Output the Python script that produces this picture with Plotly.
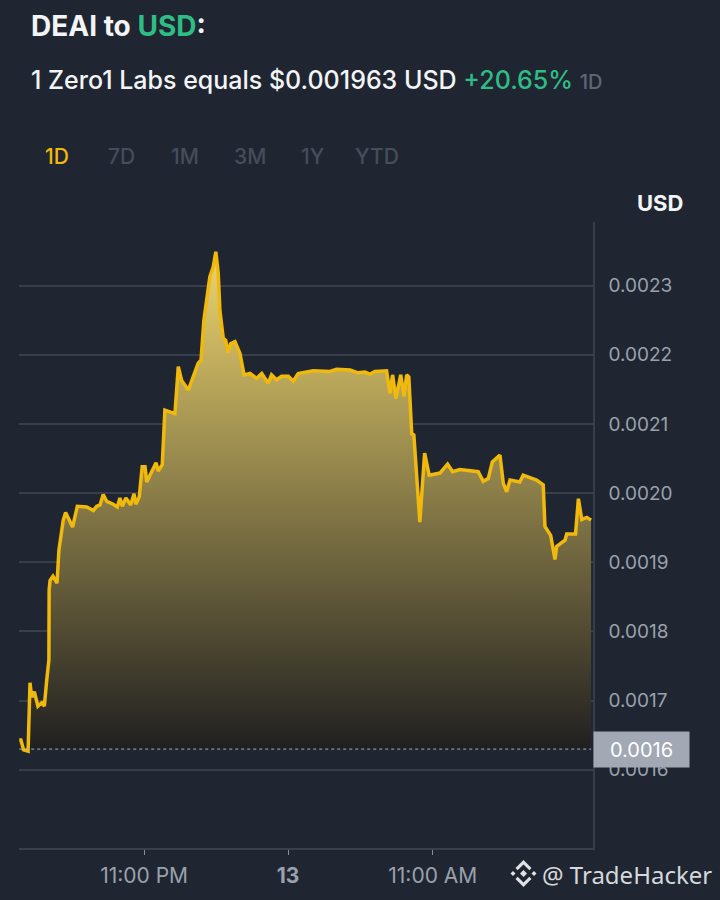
import plotly.graph_objects as go

BG = "#1f2631"
GOLD = "#f0b90b"
GREEN = "#2ebd85"
GRID = "#383f4b"
DIM = "#474d5a"
LABEL = "#9aa1ad"
FONT = "Inter"

hours = [0.01, 0.08, 0.19, 0.38, 0.46, 0.53, 0.64, 0.79, 0.95, 1.06, 1.16, 1.25, 1.26, 1.30, 1.42, 1.59, 1.67,
         1.85, 1.95, 2.06, 2.24, 2.44, 2.83, 3.11, 3.25, 3.39, 3.52, 3.67, 3.94, 4.11, 4.22, 4.32, 4.47, 4.67,
         4.81, 4.89, 5.03, 5.15, 5.27, 5.34, 5.48, 5.73, 5.82, 5.99, 6.10, 6.24, 6.52, 6.66, 6.80, 7.08, 7.29,
         7.49, 7.61, 7.73, 7.98, 8.12, 8.23, 8.33, 8.40, 8.54, 8.64, 8.75, 8.85, 9.03, 9.24, 9.41, 9.66, 9.94,
         10.15, 10.42, 10.56, 10.77, 10.98, 11.26, 11.47, 11.67, 12.30, 13.00, 13.28, 13.84, 14.18, 14.46, 14.67,
         14.88, 15.37, 15.51, 15.62, 15.76, 15.96, 16.10, 16.21, 16.30, 16.42, 16.51, 16.76, 16.96, 17.15, 17.60,
         17.92, 18.13, 18.43, 19.20, 19.41, 19.62, 19.79, 20.11, 20.25, 20.39, 20.53, 20.94, 21.08, 21.64, 21.92,
         21.99, 22.23, 22.41, 22.48, 22.83, 22.90, 23.27, 23.39, 23.53, 23.74, 23.92]
price = [0.001643, 0.001643, 0.001629, 0.001627, 0.001726, 0.001705, 0.001713, 0.001692, 0.001697, 0.001692,
         0.001730, 0.001759, 0.001860, 0.001874, 0.001880, 0.001870, 0.001918, 0.001961, 0.001972, 0.001964,
         0.001951, 0.001981, 0.001980, 0.001975, 0.001981, 0.001983, 0.001998, 0.001988, 0.001984, 0.001980,
         0.001993, 0.001981, 0.001993, 0.001983, 0.001999, 0.001984, 0.001995, 0.002038, 0.002038, 0.002016,
         0.002026, 0.002044, 0.002032, 0.002041, 0.002120, 0.002118, 0.002115, 0.002183, 0.002163, 0.002149,
         0.002168, 0.002188, 0.002192, 0.002250, 0.002313, 0.002327, 0.002349, 0.002318, 0.002264, 0.002224,
         0.002221, 0.002203, 0.002216, 0.002219, 0.002202, 0.002171, 0.002173, 0.002166, 0.002173, 0.002159,
         0.002171, 0.002164, 0.002169, 0.002169, 0.002162, 0.002173, 0.002177, 0.002176, 0.002179, 0.002178,
         0.002174, 0.002175, 0.002172, 0.002176, 0.002177, 0.002144, 0.002171, 0.002137, 0.002171, 0.002140,
         0.002171, 0.002168, 0.002086, 0.002084, 0.001958, 0.002058, 0.002026, 0.002029, 0.002042, 0.002031,
         0.002034, 0.002031, 0.002017, 0.002021, 0.002045, 0.002055, 0.002014, 0.002002, 0.002019, 0.002016,
         0.002026, 0.002019, 0.002012, 0.001952, 0.001939, 0.001904, 0.001923, 0.001932, 0.001941, 0.001941,
         0.001992, 0.001962, 0.001965, 0.001961]
open_price = 0.00163

price_ticks = [0.0016, 0.0017, 0.0018, 0.0019, 0.0020, 0.0021, 0.0022, 0.0023]
time_ticks = [5.23, 11.25, 17.3]
time_labels = ["11:00 PM", "<b>13</b>", "11:00 AM"]
ranges = ["1D", "7D", "1M", "3M", "1Y", "YTD"]
range_left = [43, 106, 169, 232, 299, 353]

L, R, T, B = 19, 593, 222, 848


def px(x):
    return (x - L) / (R - L)


def py(y):
    return (B - y) / (B - T)


fig = go.Figure()
fig.add_trace(go.Scatter(x=[hours[0], hours[-1]], y=[open_price, open_price], mode="lines",
                         line=dict(width=0), hoverinfo="skip"))
fig.add_trace(go.Scatter(x=hours, y=price, mode="lines", line=dict(color=GOLD, width=3.5),
                         fill="tonexty",
                         fillgradient=dict(type="vertical",
                                           colorscale=[[0, "#1f1f20"], [1, "#eed56e"]])))
fig.add_trace(go.Scatter(x=[hours[0], hours[-1]], y=[open_price, open_price], mode="lines",
                         line=dict(color="#aab0ba", width=1, dash="dot"), hoverinfo="skip"))


def text(x, y, s, size, color="#ffffff", family=FONT, weight=None):
    fig.add_annotation(xref="paper", yref="paper", x=px(x), y=py(y), text=s, showarrow=False,
                       xanchor="left", yanchor="middle", align="left",
                       font=dict(family=family, size=size, color=color, weight=weight))


text(29, 26, '<b>DEAI to <span style="color:%s">USD</span>:</b>' % GREEN, 28, "#f3f4f5")
text(29, 80, '1 Zero1 Labs equals $0.001963 USD <span style="color:%s">+20.65%%</span>'
     ' <span style="color:%s;font-size:20px">1D</span>' % (GREEN, "#5f6672"), 25, "#f3f4f5", weight=500)
for name, left in zip(ranges, range_left):
    text(left, 156, name, 21, GOLD if name == "1D" else DIM, weight=500)
text(635, 203, "<b>USD</b>", 22, "#f3f4f5")

fig.add_annotation(xref="paper", yref="paper", x=px(593), y=py(749), text="0.0016", showarrow=False,
                   xanchor="left", yanchor="middle", width=93, height=33, bgcolor="#a2a9b5",
                   font=dict(family=FONT, size=20, color="#ffffff"))

text(540, 874, "@ TradeHacker", 24, "#d5d8dc", family="Noto Sans")


def diamond(cx, cy, r):
    return "M %f %f L %f %f L %f %f L %f %f Z" % (px(cx - r), py(cy), px(cx), py(cy - r),
                                                  px(cx + r), py(cy), px(cx), py(cy + r))


def chevron(cx, cy, s):
    # top (s=-1) or bottom (s=1) arm of the exchange logo
    pts = [(cx - 8, cy + s * 5.5), (cx, cy + s * 13.5), (cx + 8, cy + s * 5.5),
           (cx + 5.8, cy + s * 3.3), (cx, cy + s * 9), (cx - 5.8, cy + s * 3.3)]
    return "M " + " L ".join("%f %f" % (px(a), py(b)) for a, b in pts) + " Z"


logo = [diamond(523.5, 873.5, 3.5), diamond(513, 873.5, 2.5), diamond(534, 873.5, 2.5),
        chevron(523.5, 873.5, -1), chevron(523.5, 873.5, 1)]
fig.update_layout(shapes=[dict(type="path", xref="paper", yref="paper", path=p, fillcolor="#e0e2e5",
                               line=dict(width=0)) for p in logo])

fig.update_layout(
    width=720, height=900, showlegend=False, paper_bgcolor=BG, plot_bgcolor=BG,
    margin=dict(l=L, r=720 - R, t=T, b=900 - B, pad=0),
    xaxis=dict(range=[0, 24], tickvals=time_ticks, ticktext=time_labels, showgrid=False, zeroline=False,
               showline=True, linecolor=GRID, linewidth=1.5, ticks="outside", ticklen=5, tickcolor="#8a909b",
               ticklabelstandoff=3, tickfont=dict(family=FONT, size=21, color=LABEL)),
    yaxis=dict(range=[0.001487, 0.002392], side="right", tickvals=price_ticks,
               ticktext=["%.4f" % v for v in price_ticks], gridcolor=GRID, gridwidth=1.5, zeroline=False,
               showline=True, linecolor=GRID, linewidth=1.5, ticks="", ticklabelstandoff=10,
               tickfont=dict(family=FONT, size=19, color=LABEL)),
)

fig.write_html("out.html", config=dict(displayModeBar=False),
               post_script="document.body.style.margin='0';document.body.style.background='%s';" % BG)
